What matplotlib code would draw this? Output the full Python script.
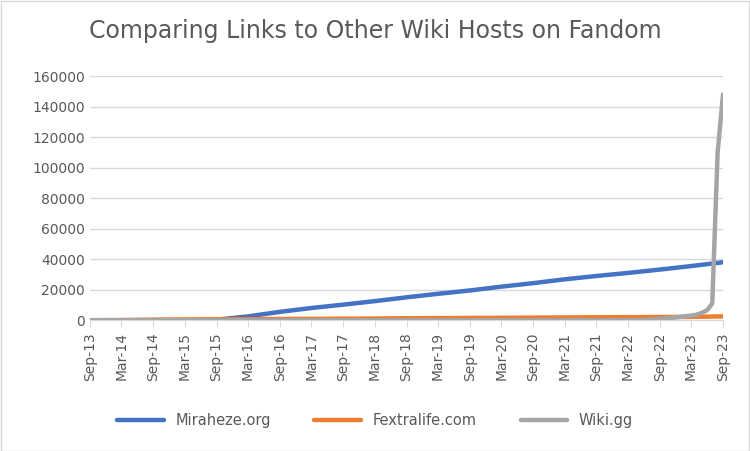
import matplotlib
matplotlib.use("Agg")
import matplotlib.pyplot as plt
import matplotlib.dates as mdates
import pandas as pd

semi_dates = ["2013-09", "2014-03", "2014-09", "2015-03", "2015-09", "2016-03", "2016-09",
              "2017-03", "2017-09", "2018-03", "2018-09", "2019-03", "2019-09", "2020-03",
              "2020-09", "2021-03", "2021-09", "2022-03", "2022-09", "2023-03", "2023-09"]
miraheze = [0, 0, 0, 0, 300, 2500, 5500, 8000, 10200, 12500, 15000, 17300, 19500, 22000,
            24300, 26800, 29000, 31000, 33200, 35500, 38000]
fextralife = [0, 100, 400, 500, 600, 700, 800, 900, 1000, 1100, 1300, 1400, 1500, 1600,
              1700, 1800, 1900, 2000, 2100, 2200, 2500]
wikigg_dates = ["2013-09", "2022-06", "2022-09", "2022-12", "2023-03", "2023-04", "2023-05",
                "2023-06", "2023-07", "2023-08", "2023-09"]
wikigg = [0, 0, 800, 1800, 3000, 3600, 4800, 6500, 11000, 110000, 148000]
tick_labels_dates = pd.date_range("2013-09-01", "2023-09-01", freq="6MS")

sx = pd.to_datetime(semi_dates)
wx = pd.to_datetime(wikigg_dates)

fig = plt.figure(figsize=(7.5, 4.51), dpi=100)
ax = fig.add_axes([0.12, 0.29, 0.844, 0.541])
lw = 3.2
ax.plot(sx, miraheze, color="#4472C4", lw=lw, label="Miraheze.org", solid_capstyle="round")
ax.plot(sx, fextralife, color="#ED7D31", lw=lw, label="Fextralife.com", solid_capstyle="round")
ax.plot(wx, wikigg, color="#A5A5A5", lw=lw, label="Wiki.gg", solid_capstyle="round")

ax.set_xlim(sx[0], sx[-1])
ax.set_ylim(0, 160000)
ax.set_yticks(range(0, 160001, 20000))
ax.set_xticks(tick_labels_dates)
ax.xaxis.set_major_formatter(mdates.DateFormatter("%b-%y"))
ax.tick_params(axis="x", rotation=90, labelsize=10, colors="#595959", length=5, color="#d9d9d9")
ax.tick_params(axis="y", labelsize=10, colors="#595959", length=0)
ax.grid(axis="y", color="#d9d9d9", lw=1)
ax.set_axisbelow(True)
for s in ["top", "right", "left"]:
    ax.spines[s].set_visible(False)
ax.spines["bottom"].set_color("#d9d9d9")

fig.text(0.5, 0.915, "Comparing Links to Other Wiki Hosts on Fandom", ha="center",
         fontsize=17, color="#595959")
fig.legend(loc="center", bbox_to_anchor=(0.5, 0.068), ncol=3, frameon=False,
           fontsize=10.5, labelcolor="#595959", handlelength=3.2, columnspacing=3)
fig.patches.append(plt.Rectangle((0.001, 0.001), 0.997, 0.997, transform=fig.transFigure,
                                 fill=False, edgecolor="#d9d9d9", lw=1))
fig.savefig("out.png", dpi=100)
